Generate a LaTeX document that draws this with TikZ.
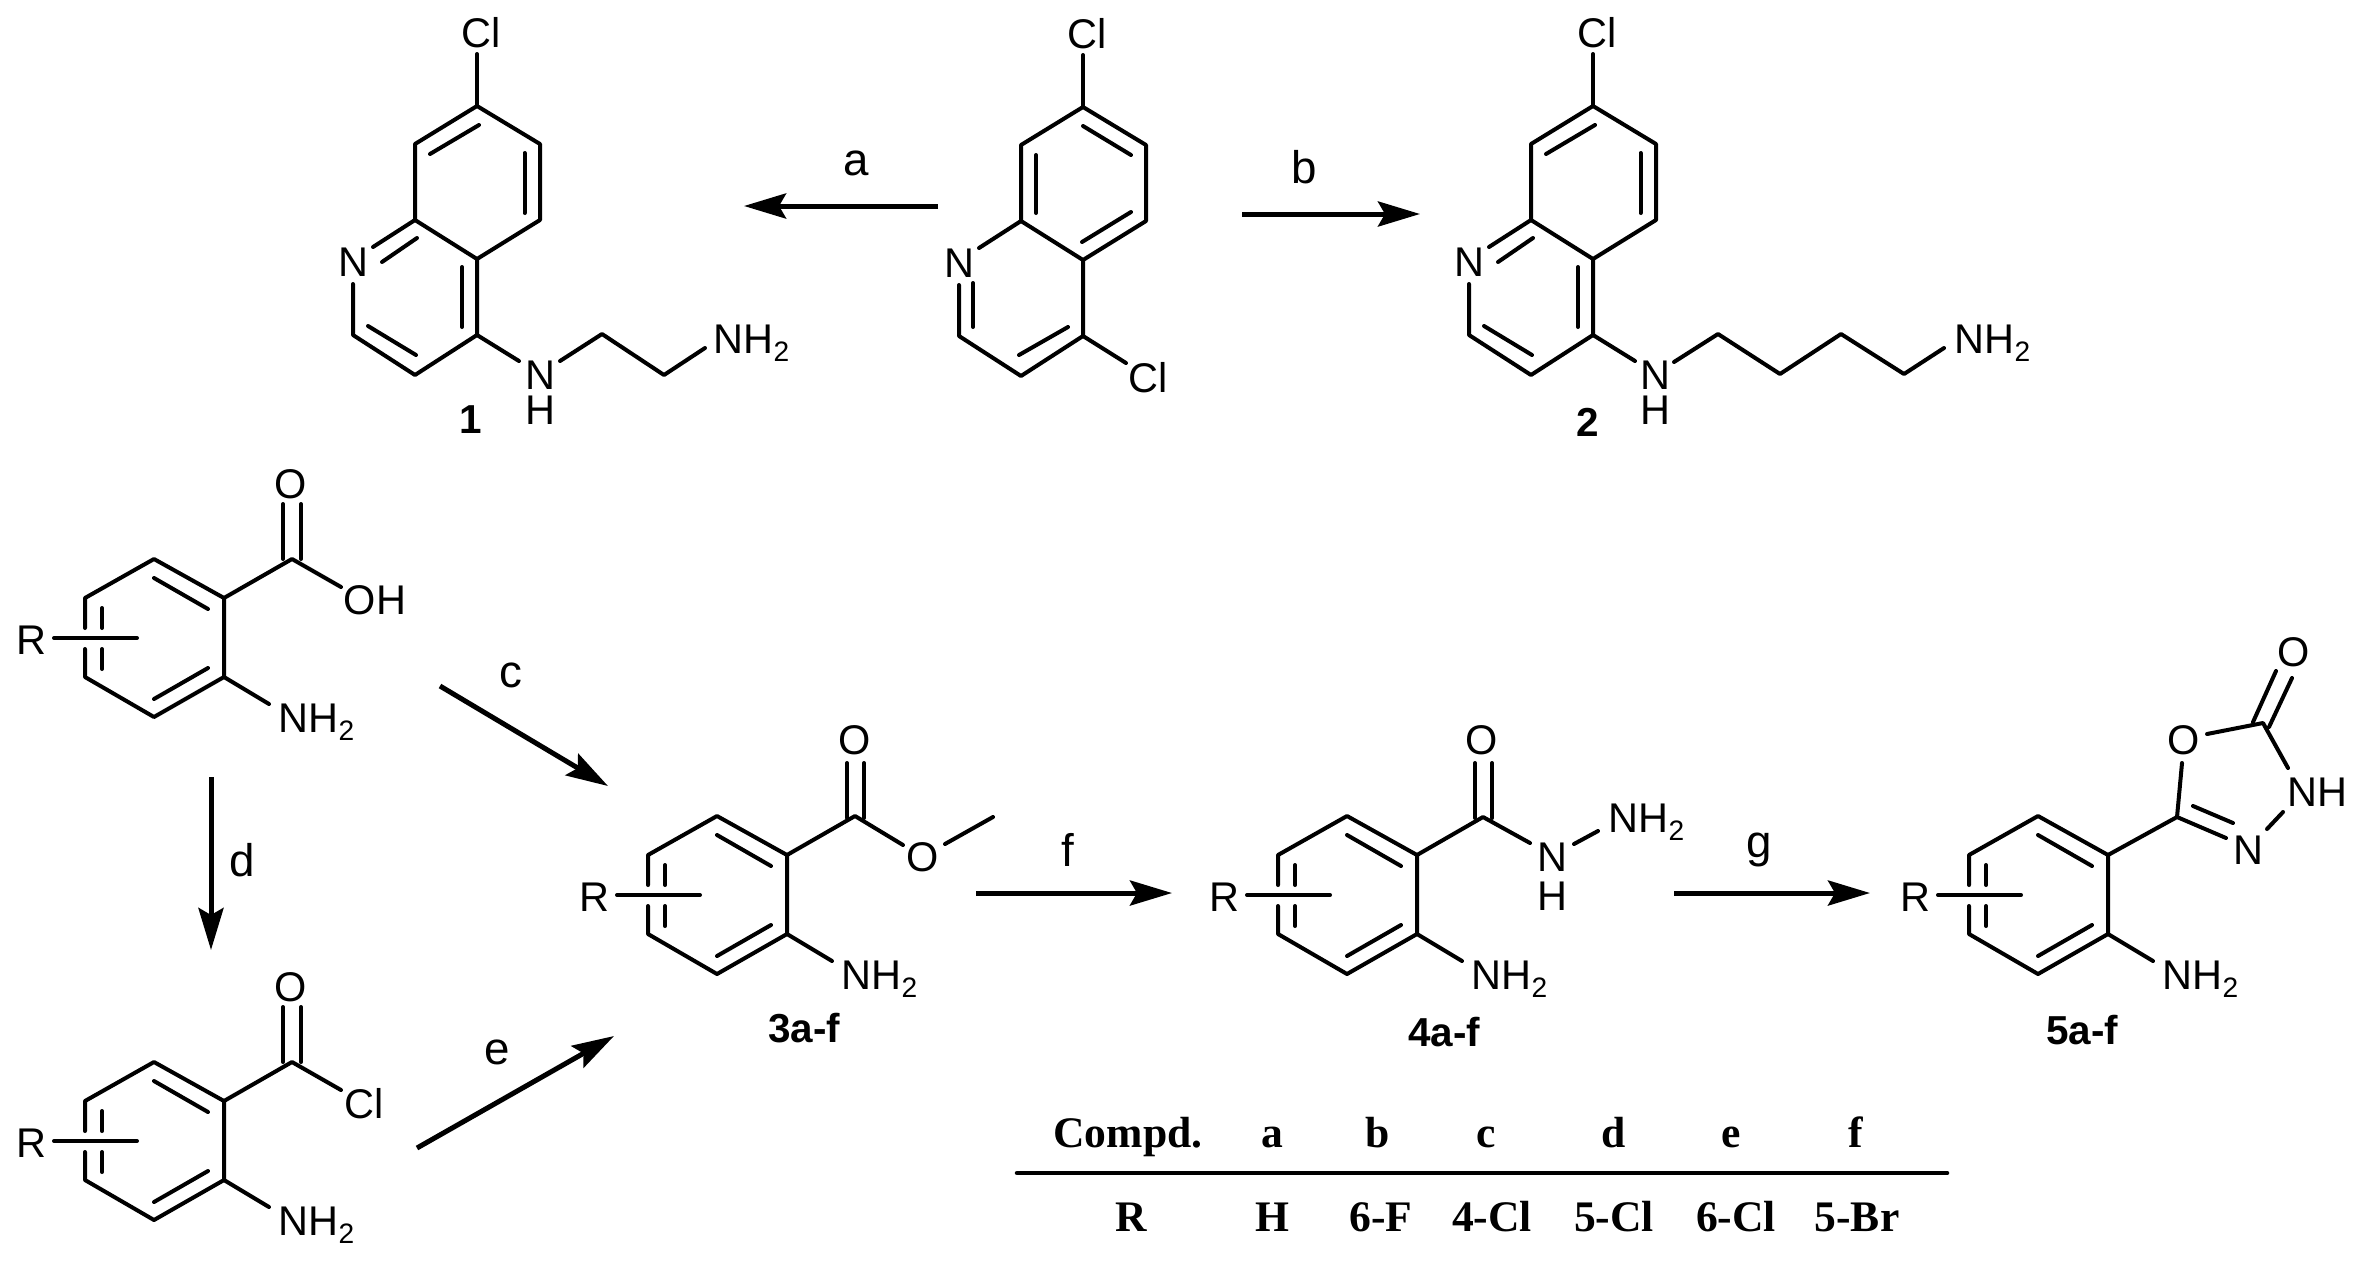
\documentclass[tikz,border=0pt]{standalone}
\usepackage{fontspec}
\setmainfont{Liberation Sans}
\newfontfamily\tablefont{Liberation Serif}
\usetikzlibrary{arrows.meta}
\tikzset{
    bond/.style={line width=0.04cm,line cap=round,line join=round},
    atom/.style={inner sep=0pt,font=\fontsize{11.8}{13}\selectfont},
    atomw/.style={atom,anchor=base west},
    rxn/.style={line width=0.05cm,-{Stealth[length=0.42cm,width=0.25cm,inset=0.07cm]}},
    cond/.style={inner sep=0pt,font=\fontsize{13}{15}\selectfont},
    cmpd/.style={inner sep=0pt,font=\fontsize{11.5}{13}\selectfont\bfseries},
    tab/.style={inner sep=0pt,anchor=base,font=\fontsize{12.4}{14}\selectfont\tablefont\bfseries},
}
\newcommand{\nhtwo}{NH{\fontsize{8}{9}\selectfont\raisebox{-0.08cm}{2}}}
% quinoline skeleton, coordinates of compound 1
\newcommand{\quinoline}{
\coordinate (c7) at (477,106);
\coordinate (c6) at (540,144);
\coordinate (c5) at (540,220);
\coordinate (c4a) at (477,259);
\coordinate (c8a) at (415,220);
\coordinate (c8) at (415,144);
\coordinate (c4) at (477,335);
\coordinate (c3) at (415,375);
\coordinate (c2) at (353,335);
\coordinate (clb) at (477,54);
\node[atom] (cl) at (481,33) {Cl};
\node[atom] (n1) at (353,262) {N};
\draw[bond] (clb)--(c7);
\draw[bond] (c7)--(c6)--(c5)--(c4a)--(c8a)--(c8)--cycle;
\draw[bond] (c4a)--(c4)--(c3)--(c2)--(353,284);
\draw[bond] (c8a)--(373,247);
}
% aminobenzene ring with free R, coordinates of the top left acid
\newcommand{\anisring}{
\coordinate (top) at (154,559);
\coordinate (ur) at (224,598);
\coordinate (lr) at (224,677);
\coordinate (bot) at (154,717);
\coordinate (ll) at (85,677);
\coordinate (ul) at (85,598);
\coordinate (rr) at (137,638);
\coordinate (nb) at (269,704);
\coordinate (co) at (292,559);
\node[atom] (r) at (31,640) {R};
\draw[bond] (85,628)--(ul)--(top)--(ur)--(lr)--(bot)--(ll)--(85,649);
\draw[bond] (154,578)--(208,609);
\draw[bond] (208,668)--(154,699);
\draw[bond] (102,608)--(102,628);
\draw[bond] (102,649)--(102,669);
\draw[bond] (54,638)--(rr);
\draw[bond] (lr)--(nb);
\node[atomw] (nh) at (278,732) {\nhtwo};
}
\begin{document}
\begin{tikzpicture}[x=0.01cm,y=-0.01cm]
\useasboundingbox (0,0) rectangle (2358,1260);
% compound 1
\begin{scope}
\quinoline
\draw[bond] (479,125)--(430,154);
\draw[bond] (524.5,153)--(524.5,213);
\draw[bond] (462,267)--(462,327);
\draw[bond] (368,326)--(416,355);
\draw[bond] (417,238)--(382,262);
\node[atom] (nh1) at (540,375) {N};
\node[atom] (h1) at (540,410) {H};
\node[atomw] (nt1) at (713,353) {\nhtwo};
\draw[bond] (c4)--(519,361);
\draw[bond] (560,361)--(602,334)--(664,375)--(705,348);
\node[cmpd] (l1) at (471,420) {1};
\end{scope}
% compound 2
\begin{scope}[shift={(1116,0)}]
\quinoline
\draw[bond] (479,125)--(430,154);
\draw[bond] (524.5,153)--(524.5,213);
\draw[bond] (462,267)--(462,327);
\draw[bond] (368,326)--(416,355);
\draw[bond] (417,238)--(382,262);
\node[atom] (nh2) at (539,375) {N};
\node[atom] (h2) at (539,410) {H};
\node[atomw] (nt2) at (838,353) {\nhtwo};
\draw[bond] (c4)--(519,361);
\draw[bond] (558,362)--(602,334)--(664,374)--(725,334)--(788,374)--(828,348);
\node[cmpd] (l2) at (472,422) {2};
\end{scope}
% dichloroquinoline
\begin{scope}[shift={(606,1)}]
\quinoline
\draw[bond] (430,154)--(430,212);
\draw[bond] (477,125)--(525,154);
\draw[bond] (525,211)--(476,241);
\draw[bond] (367,282)--(367,326);
\draw[bond] (413,354)--(462,326);
\draw[bond] (c4)--(520,362);
\node[atom] (cl4) at (542,377) {Cl};
\end{scope}
% acid
\begin{scope}
\anisring
\node[atom] (o6) at (291,484) {O};
\draw[bond] (283,504)--(283,559);
\draw[bond] (301,504)--(301,559);
\draw[bond] (ur)--(co)--(341,587);
\node[atom] (oh) at (375,600) {OH};
\end{scope}
% acid chloride
\begin{scope}[shift={(0,503)}]
\anisring
\node[atom] (o7) at (291,484) {O};
\draw[bond] (283,504)--(283,559);
\draw[bond] (301,504)--(301,559);
\draw[bond] (ur)--(co)--(341,587);
\node[atom] (cl7) at (364,601) {Cl};
\end{scope}
% compound 3
\begin{scope}[shift={(563,257)}]
\anisring
\node[atom] (o3) at (292,483) {O};
\draw[bond] (284,506)--(284,561);
\draw[bond] (301,506)--(301,561);
\draw[bond] (ur)--(co)--(340,588);
\node[atom] (e3) at (360,600) {O};
\draw[bond] (382,587)--(430,560);
\node[cmpd] (l3) at (241,771) {3a-f};
\end{scope}
% compound 4
\begin{scope}[shift={(1193,257)}]
\anisring
\node[atom] (o4) at (289,483) {O};
\draw[bond] (282,506)--(282,561);
\draw[bond] (299,506)--(299,561);
\draw[bond] (ur)--(290,560)--(337,586);
\node[atom] (n4) at (359,600) {N};
\node[atom] (h4) at (359,639) {H};
\draw[bond] (381,587)--(405,574);
\node[atomw] (nt4) at (415,575) {\nhtwo};
\node[cmpd] (l4) at (251,775) {4a-f};
\end{scope}
% compound 5
\begin{scope}[shift={(1884,257)}]
\anisring
\coordinate (c5r) at (293,560);
\draw[bond] (ur)--(c5r)--(298,506);
\draw[bond] (c5r)--(342,581);
\draw[bond] (309,549)--(349,566);
\node[atom] (o5) at (300,483) {O};
\draw[bond] (323,477)--(379,466)--(404,511);
\draw[bond] (369,465)--(392,414);
\draw[bond] (385,470)--(408,421);
\node[atom] (ot) at (410,395) {O};
\node[atom] (nh5) at (433,535) {NH};
\draw[bond] (399,555)--(383,572);
\node[atom] (n5) at (364,593) {N};
\node[cmpd] (l5) at (198,773) {5a-f};
\end{scope}
% reaction arrows
\coordinate (as) at (938,206);
\coordinate (ae) at (744,206);
\coordinate (bs) at (1242,214);
\coordinate (be) at (1420,214);
\coordinate (cs) at (440,686);
\coordinate (ce) at (608,786);
\coordinate (ds) at (211,777);
\coordinate (de) at (211,950);
\coordinate (es) at (417,1148);
\coordinate (ee) at (614,1036);
\coordinate (fs) at (976,893);
\coordinate (fe) at (1172,893);
\coordinate (gs) at (1674,893);
\coordinate (ge) at (1870,893);
\draw[rxn] (as)--(ae);
\draw[rxn] (bs)--(be);
\draw[rxn] (cs)--(ce);
\draw[rxn] (ds)--(de);
\draw[rxn] (es)--(ee);
\draw[rxn] (fs)--(fe);
\draw[rxn] (gs)--(ge);
\node[cond] (la) at (856,163) {a};
\node[cond] (lb) at (1304,167) {b};
\node[cond] (lc) at (511,675) {c};
\node[cond] (ld) at (242,860) {d};
\node[cond] (le) at (497,1052) {e};
\node[cond] (lf) at (1068,850) {f};
\node[cond] (lg) at (1759,850) {g};
% table
\coordinate (tl) at (1017,1173);
\coordinate (tr) at (1947,1173);
\draw[line width=0.045cm,line cap=round] (tl)--(tr);
\foreach \n/\x/\t in {k0/1128/Compd.,k1/1272/a,k2/1378/b,k3/1486/c,k4/1614/d,k5/1731/e,k6/1856/f}
    \node[tab] (\n) at (\x,1147) {\t};
\foreach \n/\x/\t in {v0/1131/R,v1/1272/H,v2/1381/6-F,v3/1492/4-Cl,v4/1614/5-Cl,v5/1736/6-Cl,v6/1857/5-Br}
    \node[tab] (\n) at (\x,1231) {\t};
\end{tikzpicture}
\end{document}
